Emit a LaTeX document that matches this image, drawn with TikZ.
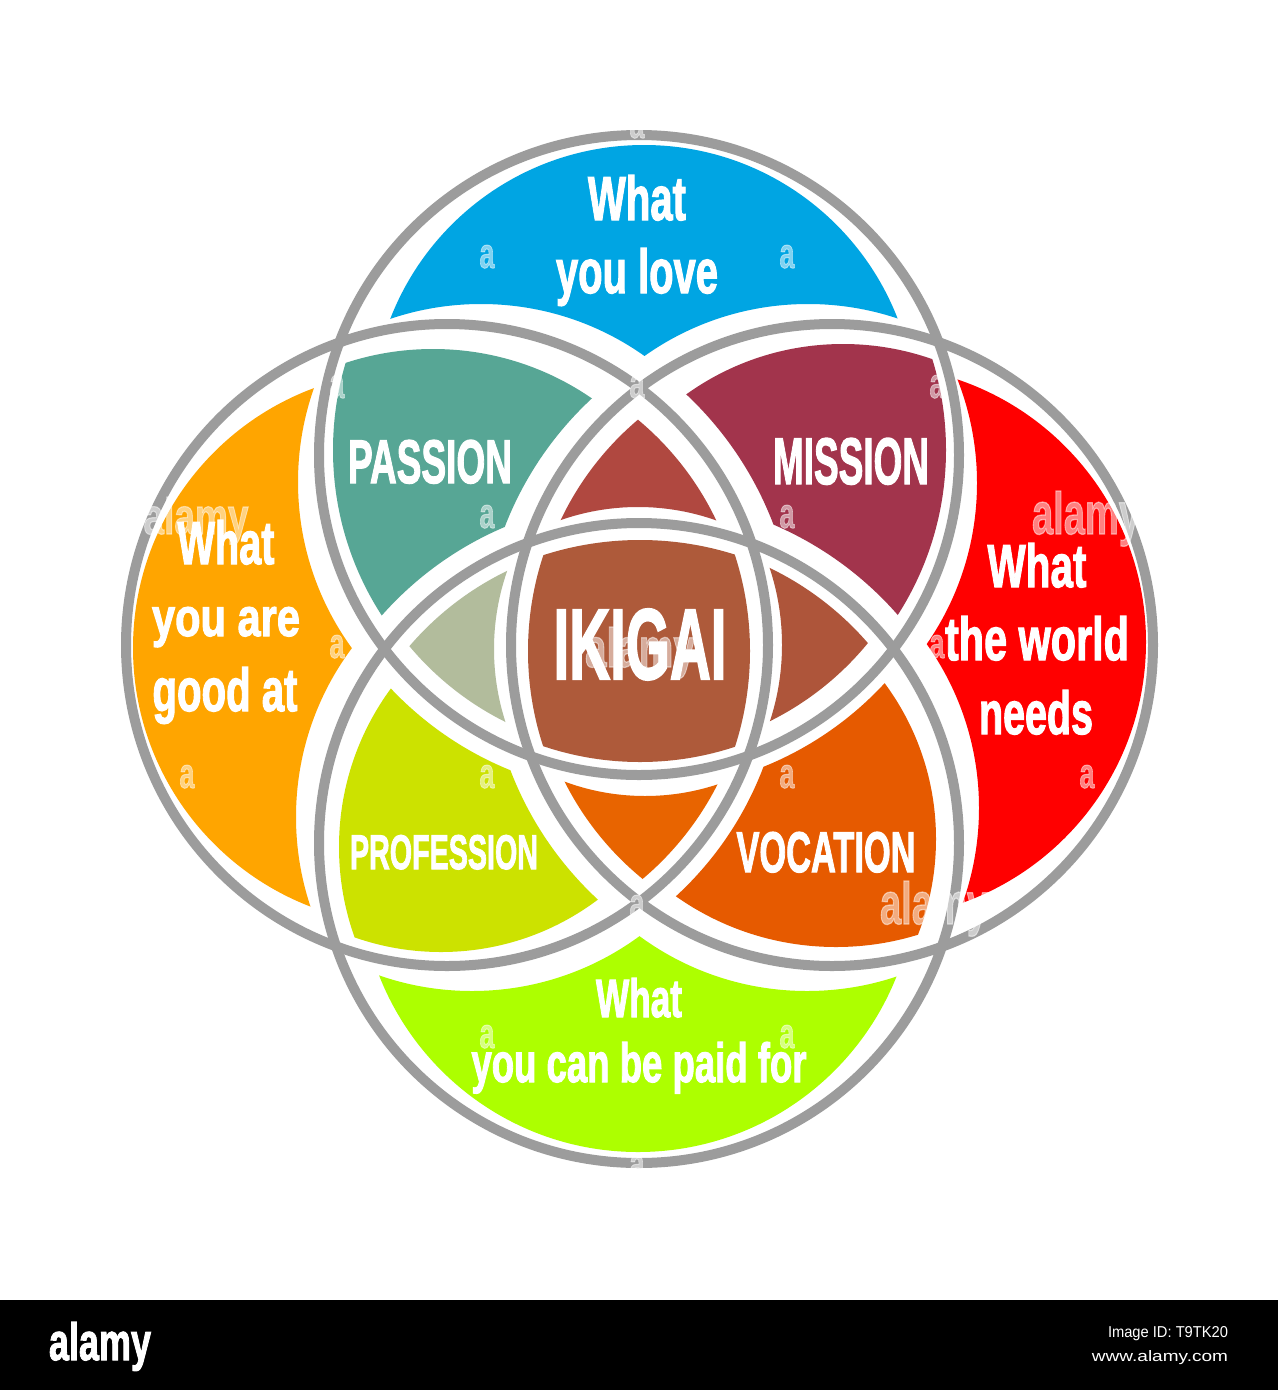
\documentclass[tikz,border=0pt]{standalone}
\usepackage{fontspec}
\setmainfont{Liberation Sans}[BoldFeatures={FakeBold=2.2}]
\definecolor{cblue}{HTML}{00A5E3}
\definecolor{cteal}{HTML}{57A695}
\definecolor{cmaroon}{HTML}{A2344C}
\definecolor{cred}{HTML}{FF0000}
\definecolor{corange}{HTML}{FFA500}
\definecolor{clime}{HTML}{CCE200}
\definecolor{cgreen}{HTML}{ADFF00}
\definecolor{cvoc}{HTML}{E65A00}
\definecolor{csmtop}{HTML}{B04840}
\definecolor{csmleft}{HTML}{B2BC9C}
\definecolor{csmright}{HTML}{AE553A}
\definecolor{csmbot}{HTML}{E86400}
\definecolor{ccentre}{HTML}{AE5A3A}
\definecolor{cring}{HTML}{9C9C9C}
\newcommand\incirc[3]{\clip (#1,#2) circle[radius=#3pt];}
\newcommand\outcirc[3]{\pgfseteorule\clip (0,0) rectangle (1278,1390) (#1,#2) circle[radius=#3pt];\pgfsetnonzerorule}
\newcommand\paintit[1]{\fill[#1] (0,0) rectangle (1278,1300);}
\newcommand\lbl[3]{\resizebox{#1pt}{#2pt}{\bfseries #3}}
\newcommand\lightlbl[3]{\resizebox{#1pt}{#2pt}{#3}}
\tikzset{
  ring/.style={draw=cring,line width=10pt},
  word/.style={text=white,anchor=base,inner sep=0pt,outer sep=0pt},
  wm/.style={text=white,anchor=base,inner sep=0pt,outer sep=0pt,text opacity=.5},
}
\begin{document}
\begin{tikzpicture}[x=1pt,y=-1pt]
\useasboundingbox (0,0) rectangle (1278,1390);
\fill[white] (0,0) rectangle (1278,1390);
\fill[black] (0,1300) rectangle (1278,1390);
% outer coloured regions
\begin{scope}\incirc{644}{417}{272}\outcirc{481}{587}{283}\outcirc{808}{587}{283}\paintit{cblue}\end{scope}
\begin{scope}\incirc{410}{648}{277}\outcirc{581}{482}{283}\outcirc{579}{817}{283}\paintit{corange}\end{scope}
\begin{scope}\incirc{869}{642}{277}\outcirc{694}{483}{283}\outcirc{696}{808}{283}\paintit{cred}\end{scope}
\begin{scope}\incirc{638}{874}{278}\outcirc{472}{708}{283}\outcirc{807}{708}{283}\paintit{cgreen}\end{scope}
% petals
\begin{scope}\incirc{638}{450}{305}\incirc{433}{629}{280}\outcirc{825}{650}{343}\outcirc{638}{842}{342}\paintit{cteal}\end{scope}
\begin{scope}\incirc{640}{450}{306}\incirc{843}{613}{269}\outcirc{448}{648}{348}\outcirc{638}{842}{345}\paintit{cmaroon}\end{scope}
\begin{scope}\incirc{607}{847}{268}\incirc{441}{691}{261}\outcirc{638}{455}{340}\outcirc{831}{648}{343}\paintit{clime}\end{scope}
\begin{scope}\incirc{674}{839}{262}\incirc{836}{669}{278}\outcirc{638}{455}{336}\outcirc{448}{648}{337}\paintit{cvoc}\end{scope}
% small regions
\begin{scope}\incirc{831}{648}{299}\incirc{448}{648}{297}\outcirc{638}{741}{234}\paintit{csmtop}\end{scope}
\begin{scope}\incirc{638}{842}{301}\incirc{638}{455}{298}\outcirc{731}{649}{237}\paintit{csmleft}\end{scope}
\begin{scope}\incirc{638}{842}{304}\incirc{638}{455}{297}\outcirc{537}{645}{245}\paintit{csmright}\end{scope}
\begin{scope}\incirc{831}{648}{298}\incirc{448}{648}{302}\outcirc{645}{565}{231}\paintit{csmbot}\end{scope}
% centre
\begin{scope}\incirc{640}{854}{314}\incirc{640}{460}{302}\incirc{833}{651}{305}\incirc{439}{651}{311}\paintit{ccentre}\end{scope}
% rings
\draw[ring] (639,455) circle[radius=320pt];
\draw[ring] (639,843) circle[radius=320pt];
\draw[ring] (447,645) circle[radius=321pt];
\draw[ring] (832,645) circle[radius=321pt];
% watermark
\foreach \wx/\wy [count=\wi] in {487/268,787/268,487/528,787/528,187/788,487/788,787/788,1087/788,337/658,937/658,487/1048,787/1048,637/138,637/398,637/918,637/1178,337/398,937/398}{
  \node[wm] (wa\wi) at (\wx,\wy) {\lbl{15}{23}{a}};
}
\node[wm] (wb1) at (196,534) {\lbl{105}{37}{alamy}};
\node[wm] (wb2) at (1086,534) {\lbl{108}{43}{alamy}};
\node[wm] (wb3) at (640,667) {\lbl{110}{40}{alamy}};
\node[wm] (wb4) at (934,924) {\lbl{108}{43}{alamy}};
% labels
\node[word] (t1a) at (637,220) {\lbl{98}{45}{What}};
\node[word] (t1b) at (637,293) {\lbl{162}{45}{you love}};
\node[word] (t2a) at (226,564) {\lbl{97}{44}{What}};
\node[word] (t2b) at (226,636) {\lbl{148}{29}{you are}};
\node[word] (t2c) at (225,711) {\lbl{145}{44}{good at}};
\node[word] (t3a) at (1037,587) {\lbl{99}{44}{What}};
\node[word] (t3b) at (1037,660) {\lbl{184}{44}{the world}};
\node[word] (t3c) at (1036,734) {\lbl{114}{44}{needs}};
\node[word] (t4a) at (639,1017) {\lbl{86}{39}{What}};
\node[word] (t4b) at (639,1082) {\lbl{335}{40}{you can be paid for}};
\node[word] (p1) at (430,483) {\lbl{164}{43}{PASSION}};
\node[word] (p2) at (851,484) {\lbl{156}{46}{MISSION}};
\node[word] (p3) at (444,869) {\lbl{188}{34}{PROFESSION}};
\node[word] (p4) at (826,872) {\lbl{179}{40}{VOCATION}};
\node[word] (ik) at (640,679) {\lbl{173}{70}{IKIGAI}};
% footer
\node[word] (f1) at (100,1360) {\lbl{102}{38}{alamy}};
\node[word,anchor=base east] (f2) at (1228,1337) {\lightlbl{120}{11}{Image ID: T9TK20}};
\node[word,anchor=base east] (f3) at (1228,1361) {\lightlbl{136}{11}{www.alamy.com}};
\end{tikzpicture}
\end{document}
